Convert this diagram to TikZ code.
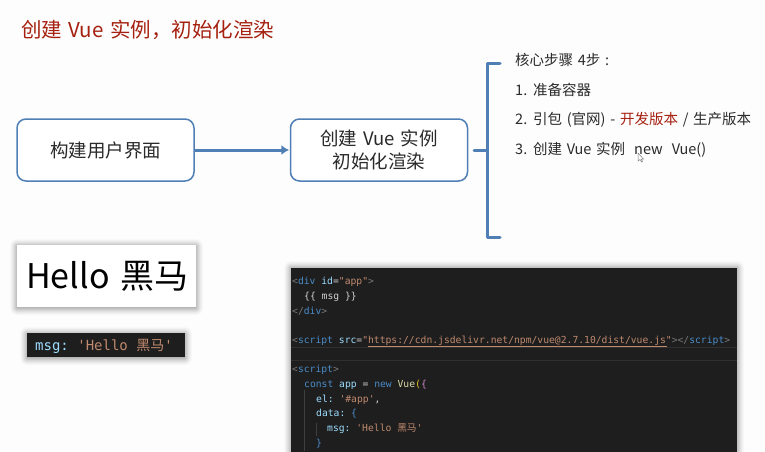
\documentclass[tikz,border=0pt]{standalone}
\usepackage{fontspec}
\setmainfont[WordSpace=1.45]{Noto Sans CJK SC}
\setmonofont{DejaVu Sans Mono}
\newfontfamily\cjkfont{Noto Sans CJK SC}
\usetikzlibrary{arrows.meta}
\definecolor{pagebg}{HTML}{FDFDFD}
\definecolor{boxblue}{HTML}{4F7FB5}
\definecolor{titlered}{HTML}{A5200F}
\definecolor{inktext}{HTML}{2A2A2A}
\definecolor{codebg}{HTML}{1E1E1E}
\definecolor{ctag}{HTML}{7A7A7A}
\definecolor{cname}{HTML}{4A8CC8}
\definecolor{cattr}{HTML}{9CDCFE}
\definecolor{cstr}{HTML}{C08A6E}
\definecolor{cplain}{HTML}{D0D0D0}
\definecolor{cfun}{HTML}{DCDCAA}
\definecolor{cbr}{HTML}{C586C0}
\definecolor{cyel}{HTML}{E0C020}
\newcommand{\tg}[1]{\textcolor{ctag}{#1}}
\newcommand{\nm}[1]{\textcolor{cname}{#1}}
\newcommand{\at}[1]{\textcolor{cattr}{#1}}
\newcommand{\st}[1]{\textcolor{cstr}{#1}}
\newcommand{\pl}[1]{\textcolor{cplain}{#1}}
\newcommand{\softshadow}[5]{%
  \foreach \s/\o in {7/0.02,6/0.025,5/0.03,4/0.035,3/0.04,2/0.05,1/0.05,0/0.06}{
    \fill[black,opacity=\o,rounded corners=\s pt] ({#1-\s},{#2-\s+#5}) rectangle ({#3+\s},{#4+\s+#5});
  }}
\tikzset{
  flowbox/.style={draw=boxblue,line width=1.5pt,rounded corners=9pt,fill=white,minimum width=177pt,minimum height=62pt,align=center,font=\fontsize{18.5}{23}\selectfont,text=inktext,inner sep=0pt},
  flowarrow/.style={draw=boxblue,line width=3pt,-{Latex[length=8pt,width=10pt]},shorten >=0.5pt},
  bracketline/.style={draw=boxblue,line width=3pt,line cap=round,line join=round},
  steptext/.style={anchor=west,inner sep=0pt,font=\fontsize{14.5}{17}\selectfont,text=inktext},
  codeline/.style={anchor=west,inner sep=0pt,font=\ttfamily\fontsize{9.7}{12}\selectfont}
}
\begin{document}
\begin{tikzpicture}[x=1pt,y=-1pt]
\useasboundingbox (0,0) rectangle (765,451);
\clip (0,0) rectangle (765,451);
\fill[pagebg] (0,0) rectangle (765,451);
% title
\node[anchor=west,inner sep=0pt,text=titlered,font=\fontsize{20.5}{24}\selectfont] (title) at (21,30) {创建 Vue 实例，初始化渲染};
% flow
\node[flowbox] (b1) at (105.5,150) {构建用户界面};
\node[flowbox] (b2) at (379,150) {创建 Vue 实例\\初始化渲染};
\draw[flowarrow] (b1) -- (b2);
% bracket
\coordinate (btop) at (500,63);
\coordinate (bbot) at (500,237);
\coordinate (bmid) at (487,150);
\coordinate (bstub) at (474,150);
\draw[bracketline] (btop) -- (487,63) -- (487,237) -- (bbot);
\draw[bracketline] (bstub) -- (bmid);
% steps
\node[steptext] (s0) at (515,60) {核心步骤 4步 :};
\node[steptext] (s1) at (515,90) {1. 准备容器};
\node[steptext] (s2) at (515,120) {2. 引包 (官网) - \textcolor{titlered}{开发版本} / 生产版本};
\node[steptext] (s3) at (515,150) {3. 创建 Vue 实例\hspace{9pt}new\hspace{9pt}Vue()};
% cursor
\fill[white,draw=gray,line width=0.5pt] (638,153) -- (638,161) -- (640,159.5) -- (641.5,162) -- (642.5,161.5) -- (641.3,159) -- (643.5,159) -- cycle;
% Hello card
\softshadow{17}{245}{196}{307}{1}
\fill[white] (17,245) rectangle (196,307);
\node[anchor=center,inner sep=0pt,text=black,font=\fontsize{34}{40}\selectfont] (hello) at (107.5,276) {Hello 黑马};
% msg bar
\softshadow{27}{333}{185}{357}{1}
\fill[codebg] (27,333) rectangle (185,357);
\node[anchor=west,inner sep=0pt,font=\ttfamily\fontsize{14}{16}\selectfont] (msgbar) at (35,346) {\at{msg:} \st{'Hello {\cjkfont 黑马}'}};
% code panel
\softshadow{291}{268}{737}{460}{0}
\fill[codebg] (291,268) rectangle (737,460);
\draw[white,opacity=0.08,line width=0.5pt] (291,347.5) -- (737,347.5);
\draw[white,opacity=0.08,line width=0.5pt] (291,360.5) -- (737,360.5);
\draw[white,opacity=0.15,line width=0.6pt] (304,390) -- (304,451);
\draw[white,opacity=0.15,line width=0.6pt] (316,423) -- (316,436);
\node[codeline] (c1) at (292,282) {\tg{<}\nm{div} \at{id}\pl{=}\st{"app"}\tg{>}};
\node[codeline] (c2) at (304,296.5) {\pl{\{\{ msg \}\}}};
\node[codeline] (c3) at (292,311) {\tg{</}\nm{div}\tg{>}};
\node[codeline] (c4) at (292,341) {\tg{<}\nm{script} \at{src}\pl{=}\st{"https://cdn.jsdelivr.net/npm/vue@2.7.10/dist/vue.js"}\tg{></}\nm{script}\tg{>}};
\draw[cstr,line width=0.7pt] (368,346.5) -- (667,346.5);
\node[codeline] (c5) at (292,370) {\tg{<}\nm{script}\tg{>}};
\node[codeline] (c6) at (304,385) {\nm{const} \at{app} \pl{=} \nm{new} \textcolor{cfun}{Vue}\textcolor{cyel}{(}\textcolor{cbr}{\{}};
\node[codeline] (c7) at (316,400) {\at{el:} \st{'\#app'}\pl{,}};
\node[codeline] (c8) at (316,414) {\at{data:} \nm{\{}};
\node[codeline] (c9) at (327,429) {\at{msg:} \st{'Hello {\cjkfont 黑马}'}};
\node[codeline] (c10) at (316,444) {\nm{\}}};
\end{tikzpicture}
\end{document}
